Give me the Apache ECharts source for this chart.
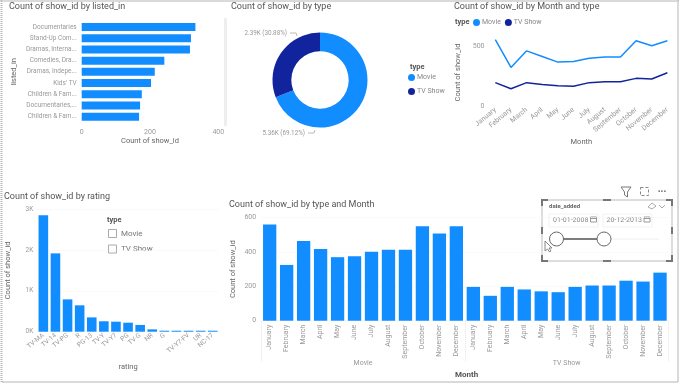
<!DOCTYPE html>
<html>
<head>
<meta charset="utf-8">
<title>show_id dashboard</title>
<script src="https://cdn.jsdelivr.net/npm/echarts@6/dist/echarts.min.js"></script>
<style>
html, body { margin: 0; padding: 0; background: #fff; }
#main { width: 680px; height: 384px; }
</style>
</head>
<body>
<div id="main"></div>
<script>
var genres = ['Documentaries', 'Stand-Up Com...', 'Dramas, Interna...', 'Comedies, Dra...', 'Dramas, Indepe...', "Kids' TV", 'Children & Fam...', 'Documentaries,...', 'Children & Fam...'];
var genreCounts = [333, 320, 317, 242, 214, 203, 176, 171, 168];

var types = ['Movie', 'TV Show'];
var typeCounts = [5358, 2394];

var months = ['January', 'February', 'March', 'April', 'May', 'June', 'July', 'August', 'September', 'October', 'November', 'December'];
var movieByMonth = [560, 325, 465, 418, 370, 375, 402, 413, 413, 550, 508, 550];
var tvByMonth = [197, 145, 197, 182, 171, 166, 197, 205, 205, 233, 228, 280];

var ratings = ['TV-MA', 'TV-14', 'TV-PG', 'R', 'PG-13', 'TV-Y', 'TV-Y7', 'PG', 'TV-G', 'NR', 'G', '', 'TV-Y7-FV', 'UR', 'NC-17'];
var ratingCounts = [2850, 1915, 790, 645, 350, 255, 245, 220, 165, 57, 18, 5, 5, 4, 3];

var FONT = 'Roboto';
var BLUE = '#118DFF';
var NAVY = '#12239E';
var TITLE = '#555';
var AXIS = '#999';
var NAME = '#666';
var NAME_STYLE = { fontSize: 7.5, color: NAME, fontFamily: FONT };

var myChart = echarts.init(document.getElementById('main'));

function title(text, left, top) {
    return { text: text, left: left, top: top, padding: 0, textStyle: { fontFamily: FONT, fontSize: 9, fontWeight: 'normal', color: TITLE } };
}

function label(text, x, y, size, color, weight, align) {
    return {
        type: 'text', x: x, y: y,
        style: { text: text, fill: color || NAME, fontFamily: FONT, fontSize: size || 8, fontWeight: weight || 'normal', align: align || 'left', verticalAlign: 'middle' }
    };
}

function line(points, color, width, dash) {
    return {
        type: 'polyline',
        shape: { points: points },
        style: { fill: null, stroke: color, lineWidth: width || 1, lineDash: dash || null }
    };
}

function box(x, y, w, h, stroke, fill, width, dash) {
    return {
        type: 'rect',
        shape: { x: x, y: y, width: w, height: h },
        style: { fill: fill || null, stroke: stroke || null, lineWidth: width || 1, lineDash: dash || null }
    };
}

function circle(cx, cy, r) {
    return { type: 'circle', shape: { cx: cx, cy: cy, r: r }, style: { fill: '#fff', stroke: '#666', lineWidth: 1 } };
}

function calendar(x, y) {
    return [box(x, y, 6, 5, '#999'), line([[x, y + 1.5], [x + 6, y + 1.5]], '#999', 1)];
}

var HANDLE = '#777';
var decorations = [
    // report page edge
    box(1.5, 1, 676.5, 381, '#b5b5b5', null, 2, [1, 1]),
    // scrollbar in the first visual
    box(224, 18, 3, 108, null, '#eeeeee'),
    // type slicer
    label('type', 107, 220, 7.5, '#555', 'bold'),
    box(108.5, 229.5, 8, 8, '#aaa'),
    box(108.5, 245, 8, 8, '#aaa'),
    label('Movie', 121, 233.5, 8, '#777'),
    label('TV Show', 121, 249, 8, '#777'),
    // legend headings
    label('type', 410, 67, 7.5, '#555', 'bold'),
    label('type', 455, 22.5, 7.5, '#555', 'bold'),
    // bar chart shared axis name
    label('Month', 455, 375, 8, '#555', 'bold'),
    // visual header icons
    { type: 'polygon', shape: { points: [[621, 187], [631, 187], [627.5, 192], [627.5, 197], [624.5, 195], [624.5, 192]] }, style: { fill: null, stroke: '#777', lineWidth: 1 } },
    box(640.5, 187.5, 8, 8, '#888', null, 1, [3, 2]),
    label('...', 662, 189, 10, '#666', 'bold', 'center'),
    // date slicer frame
    box(542, 200, 130, 61, '#bbb'),
    line([[542, 206], [542, 200], [548, 200]], HANDLE, 2),
    line([[666, 200], [672, 200], [672, 206]], HANDLE, 2),
    line([[542, 255], [542, 261], [548, 261]], HANDLE, 2),
    line([[666, 261], [672, 261], [672, 255]], HANDLE, 2),
    line([[603, 200], [611, 200]], HANDLE, 2),
    line([[603, 261], [611, 261]], HANDLE, 2),
    line([[542, 227], [542, 234]], HANDLE, 2),
    line([[672, 227], [672, 234]], HANDLE, 2),
    label('date_added', 549, 206, 6, '#666', 'bold'),
    box(549, 214, 49, 13, '#f2f2f2'),
    box(603, 214, 49, 13, '#f2f2f2'),
    label('01-01-2008', 553, 220.5, 7, '#888'),
    label('20-12-2013', 606.5, 220.5, 7, '#888'),
    line([[563, 239], [659, 239]], '#f0f0f0', 1),
    line([[563, 239], [597, 239]], '#555', 1.5),
    circle(556.5, 239, 7),
    circle(604, 239, 7),
    line([[659, 205], [662, 208], [665, 205]], '#aaa', 1),
    { type: 'polygon', shape: { points: [[648, 207], [652, 203], [656, 206], [652, 209]] }, style: { fill: null, stroke: '#aaa', lineWidth: 1 } },
    // mouse pointer
    { type: 'polygon', shape: { points: [[545, 241], [545, 251], [547.5, 249], [549.5, 252], [551, 251], [549, 248], [552, 248]] }, style: { fill: '#fff', stroke: '#888', lineWidth: 1 } }
].concat(calendar(590.5, 217), calendar(644, 217));

var option = {
    animation: false,
    textStyle: { fontFamily: FONT },
    title: [
        title('Count of show_id by listed_in', 9, 2.5),
        title('Count of show_id by type', 231, 2),
        title('Count of show_id by Month and type', 454, 2),
        title('Count of show_id by rating', 4, 192),
        title('Count of show_id by type and Month', 229, 200.5)
    ],
    legend: [
        {
            data: types, orient: 'vertical', left: 408, top: 74, itemGap: 7, itemWidth: 7, itemHeight: 7, icon: 'circle', padding: 0,
            textStyle: { fontSize: 7, color: '#888', fontFamily: FONT, padding: [0, 0, 0, -3] }
        },
        {
            data: types, orient: 'horizontal', left: 473, top: 19, itemGap: 4, itemWidth: 7, itemHeight: 7, icon: 'circle', padding: 0,
            textStyle: { fontSize: 7, color: '#888', fontFamily: FONT, padding: [0, 0, 0, -3] }
        }
    ],
    grid: [
        { left: 81.7, top: 21.4, width: 136.6, height: 100.9 },
        { left: 487.5, top: 39, width: 187.7, height: 67 },
        { left: 37.3, top: 209, width: 181.5, height: 122.7 },
        { left: 261.2, top: 217.7, width: 407.3, height: 103 }
    ],
    xAxis: [
        {
            gridIndex: 0, type: 'value', min: 0, max: 400, interval: 200,
            name: 'Count of show_id', nameLocation: 'middle', nameGap: 15, nameMoveOverlap: false,
            nameTextStyle: NAME_STYLE,
            axisLabel: { fontSize: 7, color: AXIS, margin: 6 },
            axisLine: { show: false }, axisTick: { show: false }, splitLine: { show: false }
        },
        {
            gridIndex: 1, type: 'category', data: months,
            name: 'Month', nameLocation: 'middle', nameGap: 32, nameMoveOverlap: false,
            nameTextStyle: NAME_STYLE,
            axisLabel: { fontSize: 7, color: AXIS, rotate: 40, margin: 3, interval: 0 },
            axisLine: { show: false }, axisTick: { show: false }
        },
        {
            gridIndex: 2, type: 'category', data: ratings,
            name: 'rating', nameLocation: 'middle', nameGap: 31, nameMoveOverlap: false,
            nameTextStyle: NAME_STYLE,
            axisLabel: { fontSize: 6.5, color: AXIS, rotate: 40, margin: 3, interval: 0 },
            axisLine: { show: false }, axisTick: { show: false }
        },
        {
            gridIndex: 3, type: 'category', data: months.concat(months),
            axisLabel: { fontSize: 7, color: AXIS, rotate: 90, margin: 4, interval: 0 },
            axisLine: { show: false }, axisTick: { show: false }
        },
        {
            gridIndex: 3, type: 'category', data: types, position: 'bottom',
            axisLabel: { fontSize: 7, color: AXIS, margin: 39 },
            axisLine: { show: false },
            axisTick: { show: true, length: 42, lineStyle: { color: '#e4e4e4', type: 'dotted' } }
        }
    ],
    yAxis: [
        {
            gridIndex: 0, type: 'category', data: genres, inverse: true,
            name: 'listed_in', nameLocation: 'middle', nameGap: 64, nameMoveOverlap: false,
            nameTextStyle: NAME_STYLE,
            axisLabel: { fontSize: 6.5, color: AXIS, margin: 5, interval: 0 },
            axisLine: { show: false }, axisTick: { show: false }
        },
        {
            gridIndex: 1, type: 'value', min: 0, max: 565, interval: 500,
            name: 'Count of show_id', nameLocation: 'middle', nameGap: 25.5, nameMoveOverlap: false,
            nameTextStyle: NAME_STYLE,
            axisLabel: { fontSize: 7, color: AXIS, margin: 3, showMaxLabel: false },
            axisLine: { show: false }, axisTick: { show: false }, splitLine: { show: false }
        },
        {
            gridIndex: 2, type: 'value', min: 0, max: 3000, interval: 1000,
            name: 'Count of show_id', nameLocation: 'middle', nameGap: 25, nameMoveOverlap: false,
            nameTextStyle: NAME_STYLE,
            axisLabel: { fontSize: 6.5, color: AXIS, margin: 4, formatter: function (v) { return v / 1000 + 'K'; } },
            axisLine: { show: false }, axisTick: { show: false },
            splitLine: { lineStyle: { color: '#f4f4f4', type: 'dotted' } }
        },
        {
            gridIndex: 3, type: 'value', min: 0, max: 600, interval: 200,
            name: 'Count of show_id', nameLocation: 'middle', nameGap: 24, nameMoveOverlap: false,
            nameTextStyle: NAME_STYLE,
            axisLabel: { fontSize: 7, color: AXIS, margin: 5 },
            axisLine: { show: false }, axisTick: { show: false },
            splitLine: { lineStyle: { color: '#f4f4f4', type: 'dotted' } }
        }
    ],
    series: [
        {
            type: 'bar', xAxisIndex: 0, yAxisIndex: 0, data: genreCounts,
            barWidth: 8, itemStyle: { color: BLUE }
        },
        {
            type: 'pie', center: [320, 80], radius: [28.7, 47.5], startAngle: 90, clockwise: true, percentPrecision: 2,
            data: types.map(function (t, i) {
                return { name: t, value: typeCounts[i], itemStyle: { color: i === 0 ? BLUE : NAVY } };
            }),
            label: {
                fontSize: 6.3, color: AXIS, fontFamily: FONT,
                formatter: function (p) { return (p.value / 1000).toFixed(2) + 'K (' + p.percent.toFixed(2) + '%)'; }
            },
            labelLine: { show: true, lineStyle: { color: '#bbb', width: 1 } },
            labelLayout: function (p) {
                if (p.dataIndex === 0) {
                    return { x: 305, y: 133, align: 'right', verticalAlign: 'middle', labelLinePoints: [[308, 133], [314, 133], [315, 130]] };
                }
                return { x: 287, y: 33, align: 'right', verticalAlign: 'middle', labelLinePoints: [[290, 33], [296, 33], [297, 36]] };
            }
        },
        {
            name: 'Movie', type: 'line', xAxisIndex: 1, yAxisIndex: 1, data: movieByMonth,
            symbol: 'none', lineStyle: { color: BLUE, width: 1.5 }, itemStyle: { color: BLUE }
        },
        {
            name: 'TV Show', type: 'line', xAxisIndex: 1, yAxisIndex: 1, data: tvByMonth,
            symbol: 'none', lineStyle: { color: NAVY, width: 1.5 }, itemStyle: { color: NAVY }
        },
        {
            type: 'bar', xAxisIndex: 2, yAxisIndex: 2, data: ratingCounts,
            barWidth: 9.6, barMinHeight: 1, itemStyle: { color: BLUE }
        },
        {
            type: 'bar', xAxisIndex: 3, yAxisIndex: 3, data: movieByMonth.concat(tvByMonth),
            barWidth: 13.3, itemStyle: { color: BLUE }
        }
    ],
    graphic: decorations
};

myChart.setOption(option, true);
window.onresize = myChart.resize;
</script>
</body>
</html>
